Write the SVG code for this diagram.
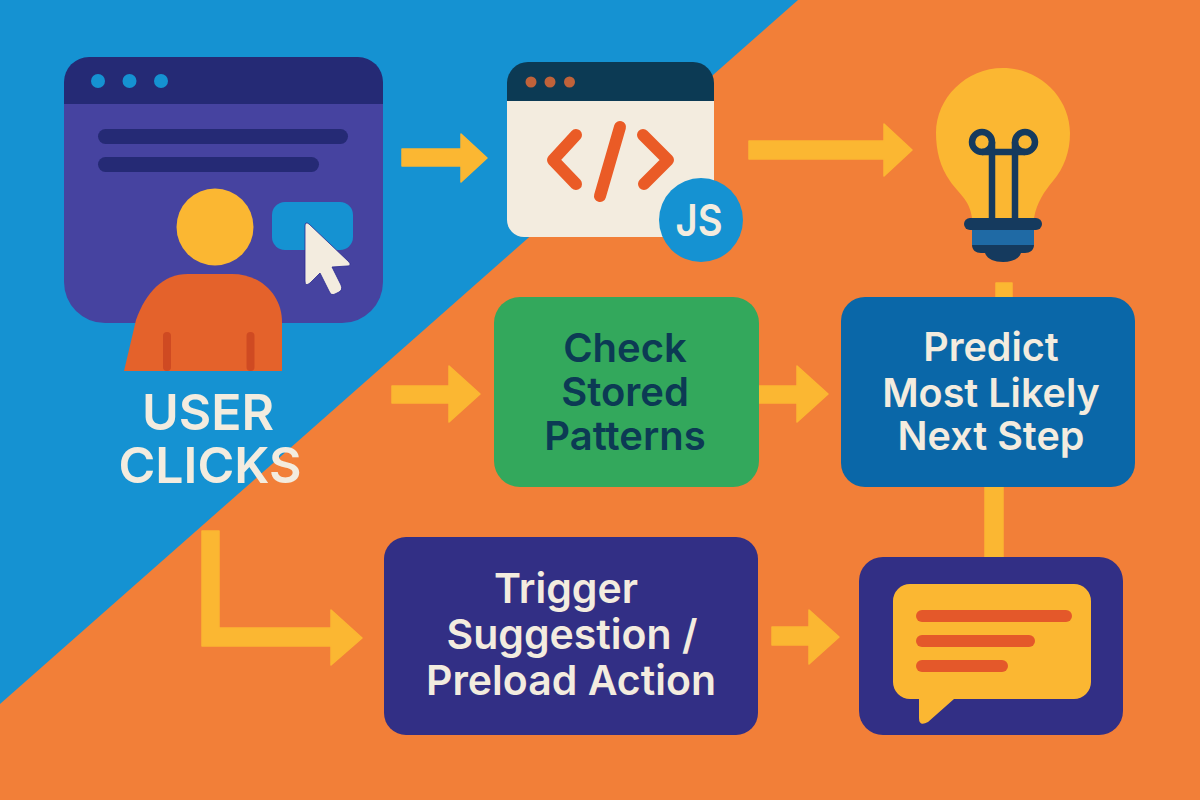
<svg xmlns="http://www.w3.org/2000/svg" width="1200" height="800" viewBox="0 0 1200 800">
<style>
.lbl{font-family:"Inter","Noto Sans","Liberation Sans",sans-serif;font-weight:600;text-anchor:middle}
.w{fill:#f3ecdf}
.ar{fill:#fbb732;stroke:#fbb732;stroke-width:1.500;stroke-linejoin:round}
</style>
<rect width="1200" height="800" fill="#f27f38"/>
<polygon points="0,0 798,0 0,704" fill="#1592d2"/>
<g id="browser">
<path d="M64,104V82a25,25 0 0 1 25,-25H358a25,25 0 0 1 25,25V104Z" fill="#252a75"/>
<path d="M64,104H383V282a41,41 0 0 1 -41,41H105a41,41 0 0 1 -41,-41Z" fill="#4643a0"/>
<circle cx="98" cy="81" r="7" fill="#1592d2"/><circle cx="129.500" cy="81" r="7" fill="#1592d2"/><circle cx="161" cy="81" r="7" fill="#1592d2"/>
<rect x="98" y="129" width="250" height="15" rx="7.500" fill="#252a75"/>
<rect x="98" y="157" width="221" height="15" rx="7.500" fill="#252a75"/>
<rect x="272" y="202" width="81" height="48" rx="13" fill="#1592d2"/>
<path d="M305,226Q305,221 309,224L349,262Q352,266 347,266L332,267L341,285Q343,290 339,292L335,294Q331,296 329,291L320,273L310,283Q305,287 305,281Z" fill="#f3ecdf" stroke="#2a2a90" stroke-width="0.800"/>
</g>
<g id="user">
<circle cx="215" cy="227" r="38.500" fill="#fbb732"/>
<path d="M124,371L136,320C146,292 163,274 188,274H232C262,274 282,296 282,322V371Z" fill="#e4622b"/>
<rect x="163" y="332" width="8" height="39" rx="4" fill="#cf4a22"/>
<rect x="246.500" y="332" width="8" height="39" rx="4" fill="#cf4a22"/>
<text class="lbl w" font-size="50"><tspan x="208" y="430">USER</tspan><tspan x="210" y="483">CLICKS</tspan></text>
</g>
<g id="code">
<path d="M507,101V83a21,21 0 0 1 21,-21H693a21,21 0 0 1 21,21V101Z" fill="#0c3a54"/>
<path d="M507,101H714V237H524a17,17 0 0 1 -17,-17Z" fill="#f3ecdf"/>
<circle cx="531" cy="82" r="5.500" fill="#c0623a"/><circle cx="550" cy="82" r="5.500" fill="#c0623a"/><circle cx="569.500" cy="82" r="5.500" fill="#c0623a"/>
<g fill="none" stroke="#ea5b26" stroke-width="12" stroke-linecap="round" stroke-linejoin="round">
<path d="M576,135L553,160L576,184"/>
<path d="M620,127L600,196"/>
<path d="M643,135L668,160L644,184"/>
</g>
<circle cx="701" cy="220" r="42" fill="#1592d2"/>
<text class="lbl w" x="699" y="236" font-size="44" textLength="47" lengthAdjust="spacingAndGlyphs">JS</text>
</g>
<g id="bulb">
<path d="M972,218C970,200 958,193 950,181C940,167 936,150 936,133C936,98 966,68 1003,68C1040,68 1070,98 1070,133C1070,152 1064,168 1053,181C1044,192 1037,202 1034,218Z" fill="#fbb732"/>
<g fill="none" stroke="#153a5e" stroke-width="6.500">
<circle cx="982" cy="142" r="10"/>
<circle cx="1025" cy="142" r="10"/>
<path d="M992,218V142M1015,218V142M982,152H1025"/>
</g>
<path d="M972,229H1034V245H972Z" fill="#1f6aa5"/>
<path d="M972,245H1034C1034,250 1030,253 1025,253H1021C1019,259 1012,262 1003,262C994,262 987,259 985,253H981C976,253 972,250 972,245Z" fill="#153a5e"/>
<rect x="964" y="218" width="78" height="12" rx="6" fill="#153a5e"/>
</g>
<g id="connectors">
<rect class="ar" x="996" y="283" width="16" height="20"/>
<rect class="ar" x="985" y="480" width="18" height="82"/>
<polygon class="ar" points="402,149 461,149 461,134 487,158 461,182 461,166 402,166"/>
<polygon class="ar" points="749,141 884,141 884,124 912,150 884,176 884,159 749,159"/>
<polygon class="ar" points="392,386 449,386 449,366 480,394 449,422 449,403 392,403"/>
<polygon class="ar" points="755,386 797,386 797,366 828,394 797,422 797,403 755,403"/>
<polygon class="ar" points="202,531 219,531 219,628 331,628 331,610 362,638 331,665 331,646 202,646"/>
<polygon class="ar" points="772,627 809,627 809,610 839,637 809,664 809,645 772,645"/>
</g>
<g id="check">
<rect x="494" y="297" width="265" height="190" rx="26" fill="#33a85c"/>
<text class="lbl" font-size="40" fill="#0c3a54"><tspan x="625" y="362">Check</tspan><tspan x="625" y="406">Stored</tspan><tspan x="625" y="450">Patterns</tspan></text>
</g>
<g id="predict">
<rect x="841" y="297" width="294" height="190" rx="24" fill="#0a67a8"/>
<text class="lbl w" font-size="39.500"><tspan x="991" y="361">Predict</tspan><tspan x="991" y="407">Most Likely</tspan><tspan x="991" y="450">Next Step</tspan></text>
</g>
<g id="trigger">
<rect x="384" y="537" width="374" height="198" rx="22" fill="#322f85"/>
<text class="lbl w" font-size="41"><tspan x="566" y="603">Trigger</tspan><tspan x="572" y="649">Suggestion /</tspan><tspan x="571" y="695">Preload Action</tspan></text>
</g>
<g id="chat">
<rect x="859" y="557" width="264" height="178" rx="24" fill="#322f85"/>
<path d="M910,584H1074a17,17 0 0 1 17,17V682a17,17 0 0 1 -17,17H954L928,722Q919,727 919,718V699H910a17,17 0 0 1 -17,-17V601a17,17 0 0 1 17,-17Z" fill="#fbb732"/>
<rect x="916" y="610" width="156" height="12" rx="6" fill="#e4582a"/>
<rect x="916" y="635" width="119" height="12" rx="6" fill="#e4582a"/>
<rect x="916" y="660" width="92" height="12" rx="6" fill="#e4582a"/>
</g>
</svg>
